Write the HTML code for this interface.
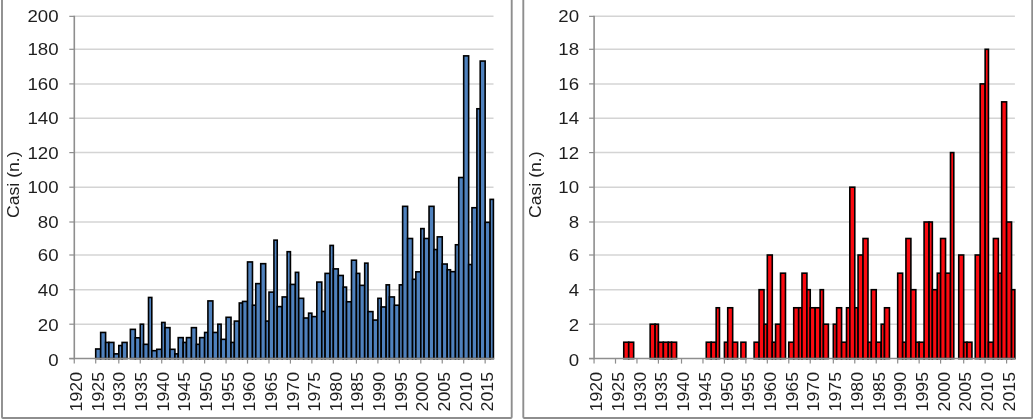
<!DOCTYPE html>
<html lang="it"><head><meta charset="utf-8"><title>Casi (n.)</title>
<style>
html,body{margin:0;padding:0;background:#fff;}
body{width:1033px;height:419px;overflow:hidden;}
svg{display:block;font-family:"Liberation Sans",sans-serif;}
</style></head><body>
<svg width="1033" height="419" viewBox="0 0 1033 419">
<rect x="0" y="0" width="1033" height="419" fill="#ffffff"/>
<g>
<path d="M2,-2 V417 Q2,418 3,418 H510.7 Q511.7,418 511.7,417 V-2" fill="none" stroke="#8e8e8e" stroke-width="1.9"/>
<path d="M523.3,-2 V417 Q523.3,418 524.3,418 H1031.2 Q1032.2,418 1032.2,417 V-2" fill="none" stroke="#8e8e8e" stroke-width="1.9"/>
<line x1="74.30" y1="324.20" x2="493.50" y2="324.20" stroke="#d4d4d4" stroke-width="1.5"/>
<line x1="74.30" y1="289.70" x2="493.50" y2="289.70" stroke="#d4d4d4" stroke-width="1.5"/>
<line x1="74.30" y1="255.00" x2="493.50" y2="255.00" stroke="#d4d4d4" stroke-width="1.5"/>
<line x1="74.30" y1="222.00" x2="493.50" y2="222.00" stroke="#d4d4d4" stroke-width="1.5"/>
<line x1="74.30" y1="187.20" x2="493.50" y2="187.20" stroke="#d4d4d4" stroke-width="1.5"/>
<line x1="74.30" y1="152.60" x2="493.50" y2="152.60" stroke="#d4d4d4" stroke-width="1.5"/>
<line x1="74.30" y1="118.20" x2="493.50" y2="118.20" stroke="#d4d4d4" stroke-width="1.5"/>
<line x1="74.30" y1="83.90" x2="493.50" y2="83.90" stroke="#d4d4d4" stroke-width="1.5"/>
<line x1="74.30" y1="49.30" x2="493.50" y2="49.30" stroke="#d4d4d4" stroke-width="1.5"/>
<line x1="74.30" y1="16.35" x2="493.50" y2="16.35" stroke="#d4d4d4" stroke-width="1.5"/>
<rect x="95.71" y="348.97" width="4.95" height="9.63" fill="#4f81bd" stroke="#000" stroke-width="1.6"/>
<rect x="100.66" y="332.46" width="4.95" height="26.14" fill="#4f81bd" stroke="#000" stroke-width="1.6"/>
<rect x="105.61" y="342.43" width="3.30" height="16.17" fill="#4f81bd" stroke="#000" stroke-width="1.6"/>
<rect x="108.91" y="342.43" width="4.95" height="16.17" fill="#4f81bd" stroke="#000" stroke-width="1.6"/>
<rect x="113.86" y="353.87" width="4.95" height="4.73" fill="#4f81bd" stroke="#000" stroke-width="1.6"/>
<rect x="118.81" y="345.53" width="3.30" height="13.07" fill="#4f81bd" stroke="#000" stroke-width="1.6"/>
<rect x="122.11" y="342.43" width="4.95" height="16.17" fill="#4f81bd" stroke="#000" stroke-width="1.6"/>
<rect x="130.36" y="329.36" width="4.95" height="29.24" fill="#4f81bd" stroke="#000" stroke-width="1.6"/>
<rect x="135.31" y="337.79" width="4.95" height="20.81" fill="#4f81bd" stroke="#000" stroke-width="1.6"/>
<rect x="140.26" y="324.20" width="3.30" height="34.40" fill="#4f81bd" stroke="#000" stroke-width="1.6"/>
<rect x="143.56" y="344.32" width="4.95" height="14.28" fill="#4f81bd" stroke="#000" stroke-width="1.6"/>
<rect x="148.51" y="297.46" width="3.30" height="61.14" fill="#4f81bd" stroke="#000" stroke-width="1.6"/>
<rect x="151.81" y="350.69" width="4.95" height="7.91" fill="#4f81bd" stroke="#000" stroke-width="1.6"/>
<rect x="156.77" y="349.31" width="4.95" height="9.29" fill="#4f81bd" stroke="#000" stroke-width="1.6"/>
<rect x="161.72" y="322.47" width="3.30" height="36.13" fill="#4f81bd" stroke="#000" stroke-width="1.6"/>
<rect x="165.02" y="327.64" width="4.95" height="30.96" fill="#4f81bd" stroke="#000" stroke-width="1.6"/>
<rect x="169.97" y="349.31" width="4.95" height="9.29" fill="#4f81bd" stroke="#000" stroke-width="1.6"/>
<rect x="174.92" y="353.87" width="3.30" height="4.73" fill="#4f81bd" stroke="#000" stroke-width="1.6"/>
<rect x="178.22" y="337.62" width="4.95" height="20.98" fill="#4f81bd" stroke="#000" stroke-width="1.6"/>
<rect x="183.17" y="342.43" width="3.30" height="16.17" fill="#4f81bd" stroke="#000" stroke-width="1.6"/>
<rect x="186.47" y="337.62" width="4.95" height="20.98" fill="#4f81bd" stroke="#000" stroke-width="1.6"/>
<rect x="191.42" y="327.64" width="4.95" height="30.96" fill="#4f81bd" stroke="#000" stroke-width="1.6"/>
<rect x="196.37" y="344.32" width="3.30" height="14.28" fill="#4f81bd" stroke="#000" stroke-width="1.6"/>
<rect x="199.67" y="337.62" width="4.95" height="20.98" fill="#4f81bd" stroke="#000" stroke-width="1.6"/>
<rect x="204.62" y="332.46" width="3.30" height="26.14" fill="#4f81bd" stroke="#000" stroke-width="1.6"/>
<rect x="207.92" y="300.91" width="4.95" height="57.69" fill="#4f81bd" stroke="#000" stroke-width="1.6"/>
<rect x="212.87" y="332.46" width="4.95" height="26.14" fill="#4f81bd" stroke="#000" stroke-width="1.6"/>
<rect x="217.82" y="324.20" width="3.30" height="34.40" fill="#4f81bd" stroke="#000" stroke-width="1.6"/>
<rect x="221.12" y="339.34" width="4.95" height="19.26" fill="#4f81bd" stroke="#000" stroke-width="1.6"/>
<rect x="226.07" y="317.30" width="4.95" height="41.30" fill="#4f81bd" stroke="#000" stroke-width="1.6"/>
<rect x="231.02" y="342.43" width="3.30" height="16.17" fill="#4f81bd" stroke="#000" stroke-width="1.6"/>
<rect x="234.32" y="321.09" width="4.95" height="37.51" fill="#4f81bd" stroke="#000" stroke-width="1.6"/>
<rect x="239.27" y="302.98" width="3.30" height="55.62" fill="#4f81bd" stroke="#000" stroke-width="1.6"/>
<rect x="242.57" y="301.43" width="4.95" height="57.17" fill="#4f81bd" stroke="#000" stroke-width="1.6"/>
<rect x="247.52" y="261.94" width="4.95" height="96.66" fill="#4f81bd" stroke="#000" stroke-width="1.6"/>
<rect x="252.47" y="305.22" width="3.30" height="53.38" fill="#4f81bd" stroke="#000" stroke-width="1.6"/>
<rect x="255.77" y="283.63" width="4.95" height="74.97" fill="#4f81bd" stroke="#000" stroke-width="1.6"/>
<rect x="260.73" y="263.68" width="4.95" height="94.93" fill="#4f81bd" stroke="#000" stroke-width="1.6"/>
<rect x="265.68" y="321.09" width="3.30" height="37.51" fill="#4f81bd" stroke="#000" stroke-width="1.6"/>
<rect x="268.98" y="292.12" width="4.95" height="66.49" fill="#4f81bd" stroke="#000" stroke-width="1.6"/>
<rect x="273.93" y="240.15" width="3.30" height="118.45" fill="#4f81bd" stroke="#000" stroke-width="1.6"/>
<rect x="277.23" y="306.61" width="4.95" height="52.00" fill="#4f81bd" stroke="#000" stroke-width="1.6"/>
<rect x="282.18" y="296.94" width="4.95" height="61.66" fill="#4f81bd" stroke="#000" stroke-width="1.6"/>
<rect x="287.13" y="251.70" width="3.30" height="106.90" fill="#4f81bd" stroke="#000" stroke-width="1.6"/>
<rect x="290.43" y="284.41" width="4.95" height="74.19" fill="#4f81bd" stroke="#000" stroke-width="1.6"/>
<rect x="295.38" y="272.35" width="3.30" height="86.25" fill="#4f81bd" stroke="#000" stroke-width="1.6"/>
<rect x="298.68" y="298.32" width="4.95" height="60.28" fill="#4f81bd" stroke="#000" stroke-width="1.6"/>
<rect x="303.63" y="317.99" width="4.95" height="40.61" fill="#4f81bd" stroke="#000" stroke-width="1.6"/>
<rect x="308.58" y="313.16" width="3.30" height="45.44" fill="#4f81bd" stroke="#000" stroke-width="1.6"/>
<rect x="311.88" y="316.61" width="4.95" height="41.99" fill="#4f81bd" stroke="#000" stroke-width="1.6"/>
<rect x="316.83" y="282.07" width="4.95" height="76.53" fill="#4f81bd" stroke="#000" stroke-width="1.6"/>
<rect x="321.78" y="311.44" width="3.30" height="47.17" fill="#4f81bd" stroke="#000" stroke-width="1.6"/>
<rect x="325.08" y="273.39" width="4.95" height="85.21" fill="#4f81bd" stroke="#000" stroke-width="1.6"/>
<rect x="330.03" y="245.43" width="3.30" height="113.17" fill="#4f81bd" stroke="#000" stroke-width="1.6"/>
<rect x="333.33" y="268.88" width="4.95" height="89.72" fill="#4f81bd" stroke="#000" stroke-width="1.6"/>
<rect x="338.28" y="275.47" width="4.95" height="83.13" fill="#4f81bd" stroke="#000" stroke-width="1.6"/>
<rect x="343.23" y="287.10" width="3.30" height="71.50" fill="#4f81bd" stroke="#000" stroke-width="1.6"/>
<rect x="346.53" y="301.77" width="4.95" height="56.83" fill="#4f81bd" stroke="#000" stroke-width="1.6"/>
<rect x="351.48" y="260.20" width="4.95" height="98.40" fill="#4f81bd" stroke="#000" stroke-width="1.6"/>
<rect x="356.43" y="273.39" width="3.30" height="85.21" fill="#4f81bd" stroke="#000" stroke-width="1.6"/>
<rect x="359.73" y="285.36" width="4.95" height="73.24" fill="#4f81bd" stroke="#000" stroke-width="1.6"/>
<rect x="364.69" y="263.15" width="3.30" height="95.45" fill="#4f81bd" stroke="#000" stroke-width="1.6"/>
<rect x="367.99" y="311.61" width="4.95" height="46.99" fill="#4f81bd" stroke="#000" stroke-width="1.6"/>
<rect x="372.94" y="320.06" width="4.95" height="38.54" fill="#4f81bd" stroke="#000" stroke-width="1.6"/>
<rect x="377.89" y="298.32" width="3.30" height="60.28" fill="#4f81bd" stroke="#000" stroke-width="1.6"/>
<rect x="381.19" y="306.95" width="4.95" height="51.65" fill="#4f81bd" stroke="#000" stroke-width="1.6"/>
<rect x="386.14" y="284.84" width="3.30" height="73.76" fill="#4f81bd" stroke="#000" stroke-width="1.6"/>
<rect x="389.44" y="296.94" width="4.95" height="61.66" fill="#4f81bd" stroke="#000" stroke-width="1.6"/>
<rect x="394.39" y="305.22" width="4.95" height="53.38" fill="#4f81bd" stroke="#000" stroke-width="1.6"/>
<rect x="399.34" y="284.84" width="3.30" height="73.76" fill="#4f81bd" stroke="#000" stroke-width="1.6"/>
<rect x="402.64" y="206.34" width="4.95" height="152.26" fill="#4f81bd" stroke="#000" stroke-width="1.6"/>
<rect x="407.59" y="238.50" width="4.95" height="120.10" fill="#4f81bd" stroke="#000" stroke-width="1.6"/>
<rect x="412.54" y="279.29" width="3.30" height="79.31" fill="#4f81bd" stroke="#000" stroke-width="1.6"/>
<rect x="415.84" y="271.83" width="4.95" height="86.77" fill="#4f81bd" stroke="#000" stroke-width="1.6"/>
<rect x="420.79" y="228.60" width="3.30" height="130.00" fill="#4f81bd" stroke="#000" stroke-width="1.6"/>
<rect x="424.09" y="238.50" width="4.95" height="120.10" fill="#4f81bd" stroke="#000" stroke-width="1.6"/>
<rect x="429.04" y="206.34" width="4.95" height="152.26" fill="#4f81bd" stroke="#000" stroke-width="1.6"/>
<rect x="433.99" y="249.56" width="3.30" height="109.05" fill="#4f81bd" stroke="#000" stroke-width="1.6"/>
<rect x="437.29" y="236.85" width="4.95" height="121.75" fill="#4f81bd" stroke="#000" stroke-width="1.6"/>
<rect x="442.24" y="264.02" width="4.95" height="94.58" fill="#4f81bd" stroke="#000" stroke-width="1.6"/>
<rect x="447.19" y="269.75" width="3.30" height="88.85" fill="#4f81bd" stroke="#000" stroke-width="1.6"/>
<rect x="450.49" y="271.66" width="4.95" height="86.94" fill="#4f81bd" stroke="#000" stroke-width="1.6"/>
<rect x="455.44" y="244.77" width="3.30" height="113.83" fill="#4f81bd" stroke="#000" stroke-width="1.6"/>
<rect x="458.74" y="177.51" width="4.95" height="181.09" fill="#4f81bd" stroke="#000" stroke-width="1.6"/>
<rect x="463.69" y="55.87" width="4.95" height="302.73" fill="#4f81bd" stroke="#000" stroke-width="1.6"/>
<rect x="468.65" y="264.54" width="3.30" height="94.06" fill="#4f81bd" stroke="#000" stroke-width="1.6"/>
<rect x="471.95" y="207.73" width="4.95" height="150.87" fill="#4f81bd" stroke="#000" stroke-width="1.6"/>
<rect x="476.90" y="108.77" width="3.30" height="249.83" fill="#4f81bd" stroke="#000" stroke-width="1.6"/>
<rect x="480.20" y="61.06" width="4.95" height="297.54" fill="#4f81bd" stroke="#000" stroke-width="1.6"/>
<rect x="485.15" y="222.33" width="4.95" height="136.27" fill="#4f81bd" stroke="#000" stroke-width="1.6"/>
<rect x="490.10" y="199.38" width="3.30" height="159.22" fill="#4f81bd" stroke="#000" stroke-width="1.6"/>
<line x1="74.30" y1="15.75" x2="74.30" y2="359.30" stroke="#8e8e8e" stroke-width="1.6"/>
<line x1="69.30" y1="358.60" x2="494.00" y2="358.60" stroke="#8e8e8e" stroke-width="1.5"/>
<line x1="69.30" y1="358.60" x2="74.30" y2="358.60" stroke="#8e8e8e" stroke-width="1.2"/>
<line x1="69.30" y1="324.20" x2="74.30" y2="324.20" stroke="#8e8e8e" stroke-width="1.2"/>
<line x1="69.30" y1="289.70" x2="74.30" y2="289.70" stroke="#8e8e8e" stroke-width="1.2"/>
<line x1="69.30" y1="255.00" x2="74.30" y2="255.00" stroke="#8e8e8e" stroke-width="1.2"/>
<line x1="69.30" y1="222.00" x2="74.30" y2="222.00" stroke="#8e8e8e" stroke-width="1.2"/>
<line x1="69.30" y1="187.20" x2="74.30" y2="187.20" stroke="#8e8e8e" stroke-width="1.2"/>
<line x1="69.30" y1="152.60" x2="74.30" y2="152.60" stroke="#8e8e8e" stroke-width="1.2"/>
<line x1="69.30" y1="118.20" x2="74.30" y2="118.20" stroke="#8e8e8e" stroke-width="1.2"/>
<line x1="69.30" y1="83.90" x2="74.30" y2="83.90" stroke="#8e8e8e" stroke-width="1.2"/>
<line x1="69.30" y1="49.30" x2="74.30" y2="49.30" stroke="#8e8e8e" stroke-width="1.2"/>
<line x1="69.30" y1="16.35" x2="74.30" y2="16.35" stroke="#8e8e8e" stroke-width="1.2"/>
<line x1="74.26" y1="358.60" x2="74.26" y2="363.60" stroke="#8e8e8e" stroke-width="1.2"/>
<line x1="95.71" y1="358.60" x2="95.71" y2="363.60" stroke="#8e8e8e" stroke-width="1.2"/>
<line x1="118.81" y1="358.60" x2="118.81" y2="363.60" stroke="#8e8e8e" stroke-width="1.2"/>
<line x1="140.26" y1="358.60" x2="140.26" y2="363.60" stroke="#8e8e8e" stroke-width="1.2"/>
<line x1="161.72" y1="358.60" x2="161.72" y2="363.60" stroke="#8e8e8e" stroke-width="1.2"/>
<line x1="183.17" y1="358.60" x2="183.17" y2="363.60" stroke="#8e8e8e" stroke-width="1.2"/>
<line x1="204.62" y1="358.60" x2="204.62" y2="363.60" stroke="#8e8e8e" stroke-width="1.2"/>
<line x1="226.07" y1="358.60" x2="226.07" y2="363.60" stroke="#8e8e8e" stroke-width="1.2"/>
<line x1="247.52" y1="358.60" x2="247.52" y2="363.60" stroke="#8e8e8e" stroke-width="1.2"/>
<line x1="268.98" y1="358.60" x2="268.98" y2="363.60" stroke="#8e8e8e" stroke-width="1.2"/>
<line x1="290.43" y1="358.60" x2="290.43" y2="363.60" stroke="#8e8e8e" stroke-width="1.2"/>
<line x1="311.88" y1="358.60" x2="311.88" y2="363.60" stroke="#8e8e8e" stroke-width="1.2"/>
<line x1="333.33" y1="358.60" x2="333.33" y2="363.60" stroke="#8e8e8e" stroke-width="1.2"/>
<line x1="356.43" y1="358.60" x2="356.43" y2="363.60" stroke="#8e8e8e" stroke-width="1.2"/>
<line x1="377.89" y1="358.60" x2="377.89" y2="363.60" stroke="#8e8e8e" stroke-width="1.2"/>
<line x1="399.34" y1="358.60" x2="399.34" y2="363.60" stroke="#8e8e8e" stroke-width="1.2"/>
<line x1="420.79" y1="358.60" x2="420.79" y2="363.60" stroke="#8e8e8e" stroke-width="1.2"/>
<line x1="442.24" y1="358.60" x2="442.24" y2="363.60" stroke="#8e8e8e" stroke-width="1.2"/>
<line x1="463.69" y1="358.60" x2="463.69" y2="363.60" stroke="#8e8e8e" stroke-width="1.2"/>
<line x1="485.15" y1="358.60" x2="485.15" y2="363.60" stroke="#8e8e8e" stroke-width="1.2"/>
<line x1="594.10" y1="324.20" x2="1014.90" y2="324.20" stroke="#d4d4d4" stroke-width="1.5"/>
<line x1="594.10" y1="289.70" x2="1014.90" y2="289.70" stroke="#d4d4d4" stroke-width="1.5"/>
<line x1="594.10" y1="255.00" x2="1014.90" y2="255.00" stroke="#d4d4d4" stroke-width="1.5"/>
<line x1="594.10" y1="222.00" x2="1014.90" y2="222.00" stroke="#d4d4d4" stroke-width="1.5"/>
<line x1="594.10" y1="187.20" x2="1014.90" y2="187.20" stroke="#d4d4d4" stroke-width="1.5"/>
<line x1="594.10" y1="152.60" x2="1014.90" y2="152.60" stroke="#d4d4d4" stroke-width="1.5"/>
<line x1="594.10" y1="118.20" x2="1014.90" y2="118.20" stroke="#d4d4d4" stroke-width="1.5"/>
<line x1="594.10" y1="83.90" x2="1014.90" y2="83.90" stroke="#d4d4d4" stroke-width="1.5"/>
<line x1="594.10" y1="49.30" x2="1014.90" y2="49.30" stroke="#d4d4d4" stroke-width="1.5"/>
<line x1="594.10" y1="16.35" x2="1014.90" y2="16.35" stroke="#d4d4d4" stroke-width="1.5"/>
<rect x="623.76" y="342.22" width="4.95" height="16.38" fill="#fb0a10" stroke="#000" stroke-width="1.6"/>
<rect x="628.71" y="342.22" width="4.95" height="16.38" fill="#fb0a10" stroke="#000" stroke-width="1.6"/>
<rect x="650.16" y="324.20" width="4.95" height="34.40" fill="#fb0a10" stroke="#000" stroke-width="1.6"/>
<rect x="655.11" y="324.20" width="3.30" height="34.40" fill="#fb0a10" stroke="#000" stroke-width="1.6"/>
<rect x="658.41" y="342.22" width="4.95" height="16.38" fill="#fb0a10" stroke="#000" stroke-width="1.6"/>
<rect x="663.36" y="342.22" width="4.95" height="16.38" fill="#fb0a10" stroke="#000" stroke-width="1.6"/>
<rect x="668.31" y="342.22" width="3.30" height="16.38" fill="#fb0a10" stroke="#000" stroke-width="1.6"/>
<rect x="671.62" y="342.22" width="4.95" height="16.38" fill="#fb0a10" stroke="#000" stroke-width="1.6"/>
<rect x="706.27" y="342.22" width="4.95" height="16.38" fill="#fb0a10" stroke="#000" stroke-width="1.6"/>
<rect x="711.22" y="342.22" width="4.95" height="16.38" fill="#fb0a10" stroke="#000" stroke-width="1.6"/>
<rect x="716.17" y="307.77" width="3.30" height="50.83" fill="#fb0a10" stroke="#000" stroke-width="1.6"/>
<rect x="724.42" y="342.22" width="3.30" height="16.38" fill="#fb0a10" stroke="#000" stroke-width="1.6"/>
<rect x="727.72" y="307.77" width="4.95" height="50.83" fill="#fb0a10" stroke="#000" stroke-width="1.6"/>
<rect x="732.67" y="342.22" width="4.95" height="16.38" fill="#fb0a10" stroke="#000" stroke-width="1.6"/>
<rect x="740.92" y="342.22" width="4.95" height="16.38" fill="#fb0a10" stroke="#000" stroke-width="1.6"/>
<rect x="754.12" y="342.22" width="4.95" height="16.38" fill="#fb0a10" stroke="#000" stroke-width="1.6"/>
<rect x="759.07" y="289.70" width="4.95" height="68.90" fill="#fb0a10" stroke="#000" stroke-width="1.6"/>
<rect x="764.02" y="324.20" width="3.30" height="34.40" fill="#fb0a10" stroke="#000" stroke-width="1.6"/>
<rect x="767.32" y="255.00" width="4.95" height="103.60" fill="#fb0a10" stroke="#000" stroke-width="1.6"/>
<rect x="772.27" y="342.22" width="3.30" height="16.38" fill="#fb0a10" stroke="#000" stroke-width="1.6"/>
<rect x="775.58" y="324.20" width="4.95" height="34.40" fill="#fb0a10" stroke="#000" stroke-width="1.6"/>
<rect x="780.53" y="273.18" width="4.95" height="85.42" fill="#fb0a10" stroke="#000" stroke-width="1.6"/>
<rect x="788.78" y="342.22" width="4.95" height="16.38" fill="#fb0a10" stroke="#000" stroke-width="1.6"/>
<rect x="793.73" y="307.77" width="4.95" height="50.83" fill="#fb0a10" stroke="#000" stroke-width="1.6"/>
<rect x="798.68" y="307.77" width="3.30" height="50.83" fill="#fb0a10" stroke="#000" stroke-width="1.6"/>
<rect x="801.98" y="273.18" width="4.95" height="85.42" fill="#fb0a10" stroke="#000" stroke-width="1.6"/>
<rect x="806.93" y="289.70" width="3.30" height="68.90" fill="#fb0a10" stroke="#000" stroke-width="1.6"/>
<rect x="810.23" y="307.77" width="4.95" height="50.83" fill="#fb0a10" stroke="#000" stroke-width="1.6"/>
<rect x="815.18" y="307.77" width="4.95" height="50.83" fill="#fb0a10" stroke="#000" stroke-width="1.6"/>
<rect x="820.13" y="289.70" width="3.30" height="68.90" fill="#fb0a10" stroke="#000" stroke-width="1.6"/>
<rect x="823.43" y="324.20" width="4.95" height="34.40" fill="#fb0a10" stroke="#000" stroke-width="1.6"/>
<rect x="833.33" y="324.20" width="3.30" height="34.40" fill="#fb0a10" stroke="#000" stroke-width="1.6"/>
<rect x="836.63" y="307.77" width="4.95" height="50.83" fill="#fb0a10" stroke="#000" stroke-width="1.6"/>
<rect x="841.58" y="342.22" width="4.95" height="16.38" fill="#fb0a10" stroke="#000" stroke-width="1.6"/>
<rect x="846.53" y="307.77" width="3.30" height="50.83" fill="#fb0a10" stroke="#000" stroke-width="1.6"/>
<rect x="849.83" y="187.20" width="4.95" height="171.40" fill="#fb0a10" stroke="#000" stroke-width="1.6"/>
<rect x="854.78" y="307.77" width="3.30" height="50.83" fill="#fb0a10" stroke="#000" stroke-width="1.6"/>
<rect x="858.08" y="255.00" width="4.95" height="103.60" fill="#fb0a10" stroke="#000" stroke-width="1.6"/>
<rect x="863.03" y="238.50" width="4.95" height="120.10" fill="#fb0a10" stroke="#000" stroke-width="1.6"/>
<rect x="867.98" y="342.22" width="3.30" height="16.38" fill="#fb0a10" stroke="#000" stroke-width="1.6"/>
<rect x="871.28" y="289.70" width="4.95" height="68.90" fill="#fb0a10" stroke="#000" stroke-width="1.6"/>
<rect x="876.23" y="342.22" width="4.95" height="16.38" fill="#fb0a10" stroke="#000" stroke-width="1.6"/>
<rect x="881.19" y="324.20" width="3.30" height="34.40" fill="#fb0a10" stroke="#000" stroke-width="1.6"/>
<rect x="884.49" y="307.77" width="4.95" height="50.83" fill="#fb0a10" stroke="#000" stroke-width="1.6"/>
<rect x="897.69" y="273.18" width="4.95" height="85.42" fill="#fb0a10" stroke="#000" stroke-width="1.6"/>
<rect x="902.64" y="342.22" width="3.30" height="16.38" fill="#fb0a10" stroke="#000" stroke-width="1.6"/>
<rect x="905.94" y="238.50" width="4.95" height="120.10" fill="#fb0a10" stroke="#000" stroke-width="1.6"/>
<rect x="910.89" y="289.70" width="4.95" height="68.90" fill="#fb0a10" stroke="#000" stroke-width="1.6"/>
<rect x="915.84" y="342.22" width="3.30" height="16.38" fill="#fb0a10" stroke="#000" stroke-width="1.6"/>
<rect x="919.14" y="342.22" width="4.95" height="16.38" fill="#fb0a10" stroke="#000" stroke-width="1.6"/>
<rect x="924.09" y="222.00" width="4.95" height="136.60" fill="#fb0a10" stroke="#000" stroke-width="1.6"/>
<rect x="929.04" y="222.00" width="3.30" height="136.60" fill="#fb0a10" stroke="#000" stroke-width="1.6"/>
<rect x="932.34" y="289.70" width="4.95" height="68.90" fill="#fb0a10" stroke="#000" stroke-width="1.6"/>
<rect x="937.29" y="273.18" width="3.30" height="85.42" fill="#fb0a10" stroke="#000" stroke-width="1.6"/>
<rect x="940.59" y="238.50" width="4.95" height="120.10" fill="#fb0a10" stroke="#000" stroke-width="1.6"/>
<rect x="945.54" y="273.18" width="4.95" height="85.42" fill="#fb0a10" stroke="#000" stroke-width="1.6"/>
<rect x="950.49" y="152.60" width="3.30" height="206.00" fill="#fb0a10" stroke="#000" stroke-width="1.6"/>
<rect x="958.74" y="255.00" width="4.95" height="103.60" fill="#fb0a10" stroke="#000" stroke-width="1.6"/>
<rect x="963.69" y="342.22" width="3.30" height="16.38" fill="#fb0a10" stroke="#000" stroke-width="1.6"/>
<rect x="966.99" y="342.22" width="4.95" height="16.38" fill="#fb0a10" stroke="#000" stroke-width="1.6"/>
<rect x="975.24" y="255.00" width="4.95" height="103.60" fill="#fb0a10" stroke="#000" stroke-width="1.6"/>
<rect x="980.19" y="83.90" width="4.95" height="274.70" fill="#fb0a10" stroke="#000" stroke-width="1.6"/>
<rect x="985.15" y="49.30" width="3.30" height="309.30" fill="#fb0a10" stroke="#000" stroke-width="1.6"/>
<rect x="988.45" y="342.22" width="4.95" height="16.38" fill="#fb0a10" stroke="#000" stroke-width="1.6"/>
<rect x="993.40" y="238.50" width="4.95" height="120.10" fill="#fb0a10" stroke="#000" stroke-width="1.6"/>
<rect x="998.35" y="273.18" width="3.30" height="85.42" fill="#fb0a10" stroke="#000" stroke-width="1.6"/>
<rect x="1001.65" y="101.87" width="4.95" height="256.73" fill="#fb0a10" stroke="#000" stroke-width="1.6"/>
<rect x="1006.60" y="222.00" width="4.95" height="136.60" fill="#fb0a10" stroke="#000" stroke-width="1.6"/>
<rect x="1011.55" y="289.70" width="3.30" height="68.90" fill="#fb0a10" stroke="#000" stroke-width="1.6"/>
<line x1="594.10" y1="15.75" x2="594.10" y2="359.30" stroke="#8e8e8e" stroke-width="1.6"/>
<line x1="589.10" y1="358.60" x2="1015.40" y2="358.60" stroke="#8e8e8e" stroke-width="1.5"/>
<line x1="589.10" y1="358.60" x2="594.10" y2="358.60" stroke="#8e8e8e" stroke-width="1.2"/>
<line x1="589.10" y1="324.20" x2="594.10" y2="324.20" stroke="#8e8e8e" stroke-width="1.2"/>
<line x1="589.10" y1="289.70" x2="594.10" y2="289.70" stroke="#8e8e8e" stroke-width="1.2"/>
<line x1="589.10" y1="255.00" x2="594.10" y2="255.00" stroke="#8e8e8e" stroke-width="1.2"/>
<line x1="589.10" y1="222.00" x2="594.10" y2="222.00" stroke="#8e8e8e" stroke-width="1.2"/>
<line x1="589.10" y1="187.20" x2="594.10" y2="187.20" stroke="#8e8e8e" stroke-width="1.2"/>
<line x1="589.10" y1="152.60" x2="594.10" y2="152.60" stroke="#8e8e8e" stroke-width="1.2"/>
<line x1="589.10" y1="118.20" x2="594.10" y2="118.20" stroke="#8e8e8e" stroke-width="1.2"/>
<line x1="589.10" y1="83.90" x2="594.10" y2="83.90" stroke="#8e8e8e" stroke-width="1.2"/>
<line x1="589.10" y1="49.30" x2="594.10" y2="49.30" stroke="#8e8e8e" stroke-width="1.2"/>
<line x1="589.10" y1="16.35" x2="594.10" y2="16.35" stroke="#8e8e8e" stroke-width="1.2"/>
<line x1="594.06" y1="358.60" x2="594.06" y2="363.60" stroke="#8e8e8e" stroke-width="1.2"/>
<line x1="615.51" y1="358.60" x2="615.51" y2="363.60" stroke="#8e8e8e" stroke-width="1.2"/>
<line x1="636.96" y1="358.60" x2="636.96" y2="363.60" stroke="#8e8e8e" stroke-width="1.2"/>
<line x1="658.41" y1="358.60" x2="658.41" y2="363.60" stroke="#8e8e8e" stroke-width="1.2"/>
<line x1="681.52" y1="358.60" x2="681.52" y2="363.60" stroke="#8e8e8e" stroke-width="1.2"/>
<line x1="702.97" y1="358.60" x2="702.97" y2="363.60" stroke="#8e8e8e" stroke-width="1.2"/>
<line x1="724.42" y1="358.60" x2="724.42" y2="363.60" stroke="#8e8e8e" stroke-width="1.2"/>
<line x1="745.87" y1="358.60" x2="745.87" y2="363.60" stroke="#8e8e8e" stroke-width="1.2"/>
<line x1="767.32" y1="358.60" x2="767.32" y2="363.60" stroke="#8e8e8e" stroke-width="1.2"/>
<line x1="788.78" y1="358.60" x2="788.78" y2="363.60" stroke="#8e8e8e" stroke-width="1.2"/>
<line x1="810.23" y1="358.60" x2="810.23" y2="363.60" stroke="#8e8e8e" stroke-width="1.2"/>
<line x1="833.33" y1="358.60" x2="833.33" y2="363.60" stroke="#8e8e8e" stroke-width="1.2"/>
<line x1="854.78" y1="358.60" x2="854.78" y2="363.60" stroke="#8e8e8e" stroke-width="1.2"/>
<line x1="876.23" y1="358.60" x2="876.23" y2="363.60" stroke="#8e8e8e" stroke-width="1.2"/>
<line x1="897.69" y1="358.60" x2="897.69" y2="363.60" stroke="#8e8e8e" stroke-width="1.2"/>
<line x1="919.14" y1="358.60" x2="919.14" y2="363.60" stroke="#8e8e8e" stroke-width="1.2"/>
<line x1="940.59" y1="358.60" x2="940.59" y2="363.60" stroke="#8e8e8e" stroke-width="1.2"/>
<line x1="963.69" y1="358.60" x2="963.69" y2="363.60" stroke="#8e8e8e" stroke-width="1.2"/>
<line x1="985.15" y1="358.60" x2="985.15" y2="363.60" stroke="#8e8e8e" stroke-width="1.2"/>
<line x1="1006.60" y1="358.60" x2="1006.60" y2="363.60" stroke="#8e8e8e" stroke-width="1.2"/>
<g opacity="0.99">
<text transform="translate(58.60,365.50) scale(1.19,1)" text-anchor="end" font-size="15.7" fill="#1c1c1c">0</text>
<text transform="translate(58.60,330.95) scale(1.19,1)" text-anchor="end" font-size="15.7" fill="#1c1c1c">20</text>
<text transform="translate(58.60,296.30) scale(1.19,1)" text-anchor="end" font-size="15.7" fill="#1c1c1c">40</text>
<text transform="translate(58.60,261.45) scale(1.19,1)" text-anchor="end" font-size="15.7" fill="#1c1c1c">60</text>
<text transform="translate(58.60,228.30) scale(1.19,1)" text-anchor="end" font-size="15.7" fill="#1c1c1c">80</text>
<text transform="translate(58.60,193.35) scale(1.19,1)" text-anchor="end" font-size="15.7" fill="#1c1c1c">100</text>
<text transform="translate(58.60,158.60) scale(1.19,1)" text-anchor="end" font-size="15.7" fill="#1c1c1c">120</text>
<text transform="translate(58.60,124.05) scale(1.19,1)" text-anchor="end" font-size="15.7" fill="#1c1c1c">140</text>
<text transform="translate(58.60,89.60) scale(1.19,1)" text-anchor="end" font-size="15.7" fill="#1c1c1c">160</text>
<text transform="translate(58.60,54.85) scale(1.19,1)" text-anchor="end" font-size="15.7" fill="#1c1c1c">180</text>
<text transform="translate(58.60,21.75) scale(1.19,1)" text-anchor="end" font-size="15.7" fill="#1c1c1c">200</text>
<text transform="translate(82.15,372.0) rotate(-90) scale(1.13,1)" text-anchor="end" font-size="15.7" fill="#1c1c1c">1920</text>
<text transform="translate(103.79,372.0) rotate(-90) scale(1.13,1)" text-anchor="end" font-size="15.7" fill="#1c1c1c">1925</text>
<text transform="translate(125.43,372.0) rotate(-90) scale(1.13,1)" text-anchor="end" font-size="15.7" fill="#1c1c1c">1930</text>
<text transform="translate(147.07,372.0) rotate(-90) scale(1.13,1)" text-anchor="end" font-size="15.7" fill="#1c1c1c">1935</text>
<text transform="translate(168.71,372.0) rotate(-90) scale(1.13,1)" text-anchor="end" font-size="15.7" fill="#1c1c1c">1940</text>
<text transform="translate(190.35,372.0) rotate(-90) scale(1.13,1)" text-anchor="end" font-size="15.7" fill="#1c1c1c">1945</text>
<text transform="translate(211.99,372.0) rotate(-90) scale(1.13,1)" text-anchor="end" font-size="15.7" fill="#1c1c1c">1950</text>
<text transform="translate(233.63,372.0) rotate(-90) scale(1.13,1)" text-anchor="end" font-size="15.7" fill="#1c1c1c">1955</text>
<text transform="translate(255.27,372.0) rotate(-90) scale(1.13,1)" text-anchor="end" font-size="15.7" fill="#1c1c1c">1960</text>
<text transform="translate(276.91,372.0) rotate(-90) scale(1.13,1)" text-anchor="end" font-size="15.7" fill="#1c1c1c">1965</text>
<text transform="translate(298.55,372.0) rotate(-90) scale(1.13,1)" text-anchor="end" font-size="15.7" fill="#1c1c1c">1970</text>
<text transform="translate(320.19,372.0) rotate(-90) scale(1.13,1)" text-anchor="end" font-size="15.7" fill="#1c1c1c">1975</text>
<text transform="translate(341.83,372.0) rotate(-90) scale(1.13,1)" text-anchor="end" font-size="15.7" fill="#1c1c1c">1980</text>
<text transform="translate(363.47,372.0) rotate(-90) scale(1.13,1)" text-anchor="end" font-size="15.7" fill="#1c1c1c">1985</text>
<text transform="translate(385.11,372.0) rotate(-90) scale(1.13,1)" text-anchor="end" font-size="15.7" fill="#1c1c1c">1990</text>
<text transform="translate(406.75,372.0) rotate(-90) scale(1.13,1)" text-anchor="end" font-size="15.7" fill="#1c1c1c">1995</text>
<text transform="translate(428.39,372.0) rotate(-90) scale(1.13,1)" text-anchor="end" font-size="15.7" fill="#1c1c1c">2000</text>
<text transform="translate(450.03,372.0) rotate(-90) scale(1.13,1)" text-anchor="end" font-size="15.7" fill="#1c1c1c">2005</text>
<text transform="translate(471.67,372.0) rotate(-90) scale(1.13,1)" text-anchor="end" font-size="15.7" fill="#1c1c1c">2010</text>
<text transform="translate(493.31,372.0) rotate(-90) scale(1.13,1)" text-anchor="end" font-size="15.7" fill="#1c1c1c">2015</text>
<text transform="translate(19.40,184.7) rotate(-90) scale(1.035,1)" text-anchor="middle" font-size="17" fill="#1c1c1c">Casi (n.)</text>
<text transform="translate(579.10,365.50) scale(1.19,1)" text-anchor="end" font-size="15.7" fill="#1c1c1c">0</text>
<text transform="translate(579.10,330.95) scale(1.19,1)" text-anchor="end" font-size="15.7" fill="#1c1c1c">2</text>
<text transform="translate(579.10,296.30) scale(1.19,1)" text-anchor="end" font-size="15.7" fill="#1c1c1c">4</text>
<text transform="translate(579.10,261.45) scale(1.19,1)" text-anchor="end" font-size="15.7" fill="#1c1c1c">6</text>
<text transform="translate(579.10,228.30) scale(1.19,1)" text-anchor="end" font-size="15.7" fill="#1c1c1c">8</text>
<text transform="translate(579.10,193.35) scale(1.19,1)" text-anchor="end" font-size="15.7" fill="#1c1c1c">10</text>
<text transform="translate(579.10,158.60) scale(1.19,1)" text-anchor="end" font-size="15.7" fill="#1c1c1c">12</text>
<text transform="translate(579.10,124.05) scale(1.19,1)" text-anchor="end" font-size="15.7" fill="#1c1c1c">14</text>
<text transform="translate(579.10,89.60) scale(1.19,1)" text-anchor="end" font-size="15.7" fill="#1c1c1c">16</text>
<text transform="translate(579.10,54.85) scale(1.19,1)" text-anchor="end" font-size="15.7" fill="#1c1c1c">18</text>
<text transform="translate(579.10,21.75) scale(1.19,1)" text-anchor="end" font-size="15.7" fill="#1c1c1c">20</text>
<text transform="translate(602.35,372.0) rotate(-90) scale(1.13,1)" text-anchor="end" font-size="15.7" fill="#1c1c1c">1920</text>
<text transform="translate(624.06,372.0) rotate(-90) scale(1.13,1)" text-anchor="end" font-size="15.7" fill="#1c1c1c">1925</text>
<text transform="translate(645.77,372.0) rotate(-90) scale(1.13,1)" text-anchor="end" font-size="15.7" fill="#1c1c1c">1930</text>
<text transform="translate(667.48,372.0) rotate(-90) scale(1.13,1)" text-anchor="end" font-size="15.7" fill="#1c1c1c">1935</text>
<text transform="translate(689.19,372.0) rotate(-90) scale(1.13,1)" text-anchor="end" font-size="15.7" fill="#1c1c1c">1940</text>
<text transform="translate(710.90,372.0) rotate(-90) scale(1.13,1)" text-anchor="end" font-size="15.7" fill="#1c1c1c">1945</text>
<text transform="translate(732.61,372.0) rotate(-90) scale(1.13,1)" text-anchor="end" font-size="15.7" fill="#1c1c1c">1950</text>
<text transform="translate(754.32,372.0) rotate(-90) scale(1.13,1)" text-anchor="end" font-size="15.7" fill="#1c1c1c">1955</text>
<text transform="translate(776.03,372.0) rotate(-90) scale(1.13,1)" text-anchor="end" font-size="15.7" fill="#1c1c1c">1960</text>
<text transform="translate(797.74,372.0) rotate(-90) scale(1.13,1)" text-anchor="end" font-size="15.7" fill="#1c1c1c">1965</text>
<text transform="translate(819.45,372.0) rotate(-90) scale(1.13,1)" text-anchor="end" font-size="15.7" fill="#1c1c1c">1970</text>
<text transform="translate(841.16,372.0) rotate(-90) scale(1.13,1)" text-anchor="end" font-size="15.7" fill="#1c1c1c">1975</text>
<text transform="translate(862.87,372.0) rotate(-90) scale(1.13,1)" text-anchor="end" font-size="15.7" fill="#1c1c1c">1980</text>
<text transform="translate(884.58,372.0) rotate(-90) scale(1.13,1)" text-anchor="end" font-size="15.7" fill="#1c1c1c">1985</text>
<text transform="translate(906.29,372.0) rotate(-90) scale(1.13,1)" text-anchor="end" font-size="15.7" fill="#1c1c1c">1990</text>
<text transform="translate(928.00,372.0) rotate(-90) scale(1.13,1)" text-anchor="end" font-size="15.7" fill="#1c1c1c">1995</text>
<text transform="translate(949.71,372.0) rotate(-90) scale(1.13,1)" text-anchor="end" font-size="15.7" fill="#1c1c1c">2000</text>
<text transform="translate(971.42,372.0) rotate(-90) scale(1.13,1)" text-anchor="end" font-size="15.7" fill="#1c1c1c">2005</text>
<text transform="translate(993.13,372.0) rotate(-90) scale(1.13,1)" text-anchor="end" font-size="15.7" fill="#1c1c1c">2010</text>
<text transform="translate(1014.84,372.0) rotate(-90) scale(1.13,1)" text-anchor="end" font-size="15.7" fill="#1c1c1c">2015</text>
<text transform="translate(541.30,184.7) rotate(-90) scale(1.035,1)" text-anchor="middle" font-size="17" fill="#1c1c1c">Casi (n.)</text>
</g>
</g>
</svg>
</body></html>
